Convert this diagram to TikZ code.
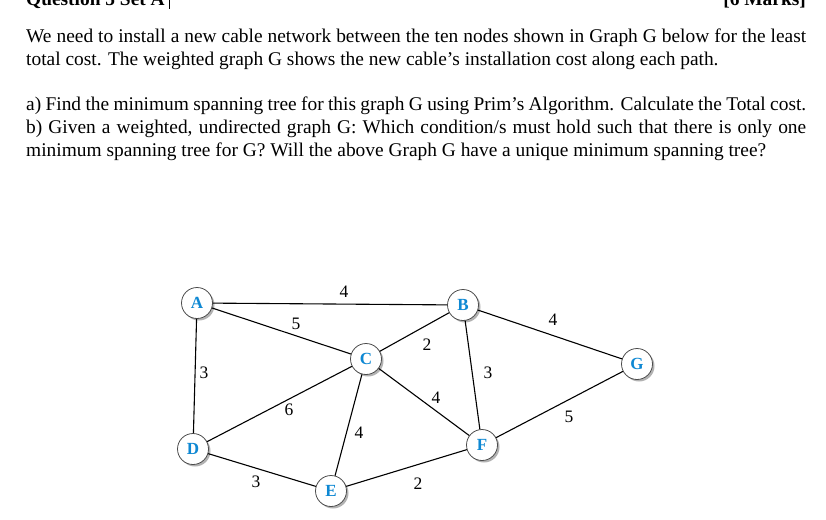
\documentclass[tikz,border=0pt]{standalone}
\usepackage{fontspec}
\setmainfont{Liberation Serif}
\usetikzlibrary{shadows}
\begin{document}
\begin{tikzpicture}[x=1pt,y=-1pt,
  vtx/.style={circle,draw=black!70,fill=white,line width=0.8pt,minimum size=31pt,inner sep=0pt,font=\fontsize{17}{17}\selectfont\bfseries,text=cyan!70!blue,drop shadow={shadow xshift=2pt,shadow yshift=-2pt,fill=black!60}},
  edge/.style={line width=1.1pt},
  wt/.style={font=\fontsize{17.5}{17.5}\selectfont,inner sep=1pt},
  para/.style={anchor=north west,text width=780pt,align=justify,inner sep=0pt,font=\fontsize{19.4}{23}\selectfont}]
\useasboundingbox (0,0) rectangle (826,519);
\begin{scope}
\clip (0,0) rectangle (826,519);
\node[anchor=base west,inner sep=0pt,font=\fontsize{19.4}{23}\selectfont\bfseries] (h1) at (26,6) {Question 5 Set A};
\node[anchor=base east,inner sep=0pt,font=\fontsize{19.4}{23}\selectfont\bfseries] (h2) at (806,6) {[6 Marks]};
\draw (169,0) -- (169,9);
\end{scope}
\node[para] (p1) at (26,29) {We need to install a new cable network between the ten nodes shown in Graph G below for the least total cost. The weighted graph G shows the new cable's installation cost along each path.};
\node[para] (p2) at (26,97) {a) Find the minimum spanning tree for this graph G using Prim’s Algorithm. Calculate the Total cost.\\
b) Given a weighted, undirected graph G: Which condition/s must hold such that there is only one minimum spanning tree for G? Will the above Graph G have a unique minimum spanning tree?};
\node[vtx] (A) at (197,303) {A};
\node[vtx] (B) at (463,305) {B};
\node[vtx] (C) at (366,359) {C};
\node[vtx] (D) at (193,449) {D};
\node[vtx] (E) at (331,491) {E};
\node[vtx] (F) at (482,445) {F};
\node[vtx] (G) at (637,364) {G};
\draw[edge] (A) -- (B);
\draw[edge] (A) -- (C);
\draw[edge] (A) -- (D);
\draw[edge] (B) -- (C);
\draw[edge] (B) -- (F);
\draw[edge] (B) -- (G);
\draw[edge] (C) -- (D);
\draw[edge] (C) -- (E);
\draw[edge] (C) -- (F);
\draw[edge] (D) -- (E);
\draw[edge] (E) -- (F);
\draw[edge] (F) -- (G);
\node[wt] (w1) at (344,292) {4};
\node[wt] (w2) at (296,324) {5};
\node[wt] (w3) at (204,373) {3};
\node[wt] (w4) at (427,345) {2};
\node[wt] (w5) at (488,373) {3};
\node[wt] (w6) at (553,320) {4};
\node[wt] (w7) at (289,410) {6};
\node[wt] (w8) at (359,433) {4};
\node[wt] (w9) at (436,398) {4};
\node[wt] (w10) at (256,482) {3};
\node[wt] (w11) at (418,484) {2};
\node[wt] (w12) at (569,417) {5};
\end{tikzpicture}
\end{document}
